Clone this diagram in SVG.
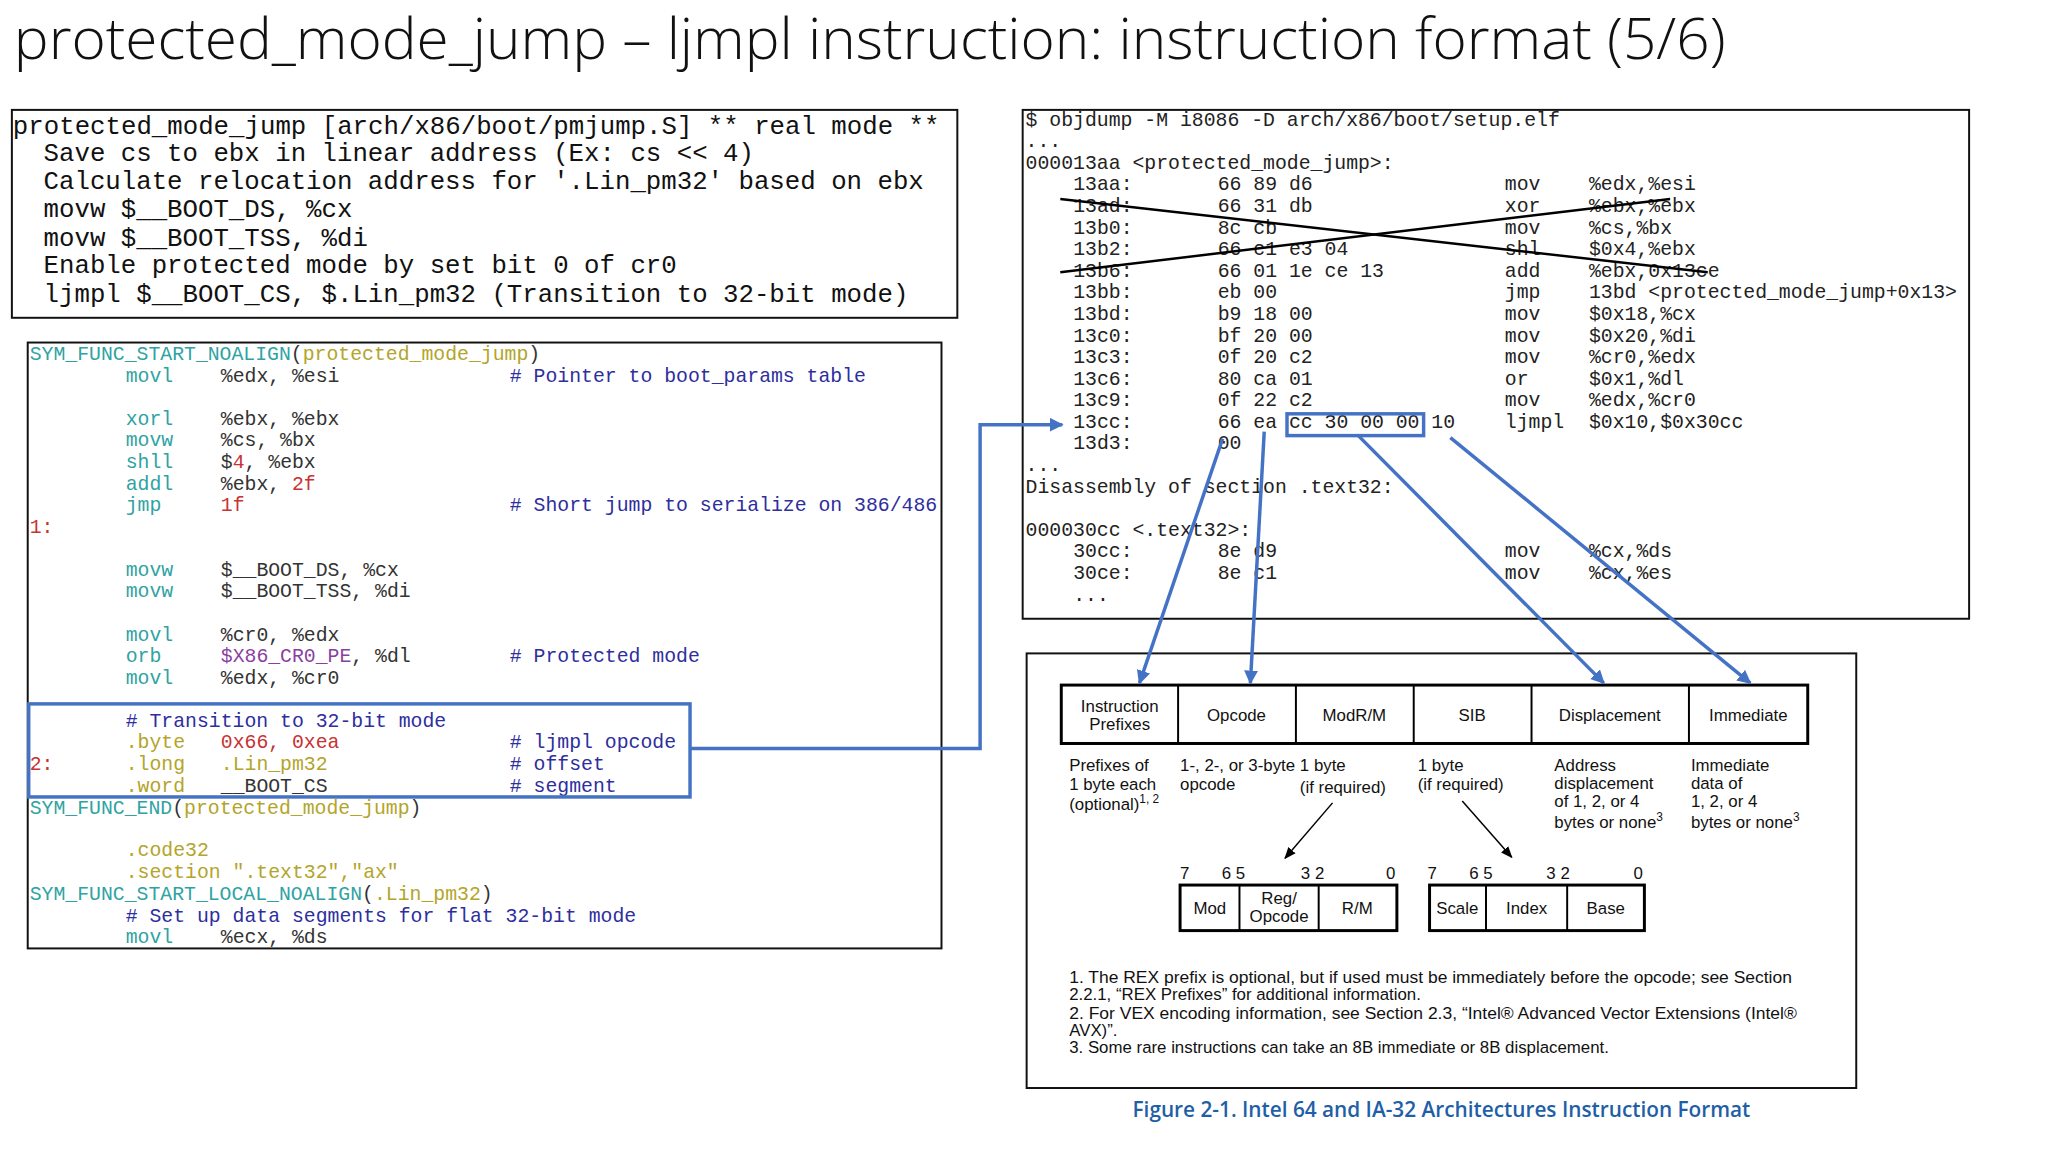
<svg xmlns="http://www.w3.org/2000/svg" width="2048" height="1152" viewBox="0 0 2048 1152">
<style>
.title{font-family:"Open Sans","Liberation Sans",sans-serif;font-weight:300;font-size:58px;fill:#111}
.m26{font-family:"Liberation Mono",monospace;font-size:26px;fill:#111}
.m20{font-family:"Liberation Mono",monospace;font-size:20px;fill:#222}
.t{fill:#2fa3a3}.y{fill:#b3a52a}.r{fill:#c83232}.c{fill:#2e2e9e}.k{fill:#333}.p{fill:#8a3fa0}
.s{font-family:"Liberation Sans Narrow","Liberation Sans",sans-serif;font-size:17px;fill:#111}
.box{fill:#fff;stroke:#111;stroke-width:2}
.fmt{fill:none;stroke:#000;stroke-width:3}
.div{stroke:#000;stroke-width:2}
.blue{fill:none;stroke:#4472c4;stroke-width:3.5}
.blk{stroke:#000;stroke-width:1.5}
</style>
<defs>
<marker id="ab" viewBox="0 0 10 10" refX="9" refY="5" markerWidth="4" markerHeight="4" orient="auto"><path d="M0,0L10,5L0,10z" fill="#4472c4"/></marker>
<marker id="ak" viewBox="0 0 10 10" refX="9" refY="5" markerWidth="8" markerHeight="8" orient="auto"><path d="M0,1L10,5L0,9z" fill="#000"/></marker>
</defs>
<rect width="2048" height="1152" fill="#fff"/>
<g transform="scale(0.99)">
<text class="title" x="14" y="60" textLength="1729" lengthAdjust="spacingAndGlyphs">protected_mode_jump – ljmpl instruction: instruction format (5/6)</text>

<g id="summary">
<rect class="box" x="12" y="111" width="955" height="210"/>
<text class="m26" x="13" y="135">protected_mode_jump [arch/x86/boot/pmjump.S] ** real mode **</text>
<text class="m26" x="44" y="163">Save cs to ebx in linear address (Ex: cs &lt;&lt; 4)</text>
<text class="m26" x="44" y="191">Calculate relocation address for '.Lin_pm32' based on ebx</text>
<text class="m26" x="44" y="219">movw $__BOOT_DS, %cx</text>
<text class="m26" x="44" y="248">movw $__BOOT_TSS, %di</text>
<text class="m26" x="44" y="276">Enable protected mode by set bit 0 of cr0</text>
<text class="m26" x="44" y="305">ljmpl $__BOOT_CS, $.Lin_pm32 (Transition to 32-bit mode)</text>
</g>

<g id="source" class="m20">
<rect class="box" x="28" y="346" width="923" height="612"/>
<text x="30" y="364"><tspan class="t">SYM_FUNC_START_NOALIGN</tspan><tspan class="k">(</tspan><tspan class="y">protected_mode_jump</tspan><tspan class="k">)</tspan></text>
<text class="t" x="127" y="386">movl</text><text class="k" x="223" y="386">%edx, %esi</text><text class="c" x="515" y="386"># Pointer to boot_params table</text>
<text class="t" x="127" y="429">xorl</text><text class="k" x="223" y="429">%ebx, %ebx</text>
<text class="t" x="127" y="451">movw</text><text class="k" x="223" y="451">%cs, %bx</text>
<text class="t" x="127" y="473">shll</text><text x="223" y="473"><tspan class="k">$</tspan><tspan class="r">4</tspan><tspan class="k">, %ebx</tspan></text>
<text class="t" x="127" y="495">addl</text><text x="223" y="495"><tspan class="k">%ebx, </tspan><tspan class="r">2f</tspan></text>
<text class="t" x="127" y="516">jmp</text><text class="r" x="223" y="516">1f</text><text class="c" x="515" y="516"># Short jump to serialize on 386/486</text>
<text class="r" x="30" y="538">1:</text>
<text class="t" x="127" y="582">movw</text><text class="k" x="223" y="582">$__BOOT_DS, %cx</text>
<text class="t" x="127" y="603">movw</text><text class="k" x="223" y="603">$__BOOT_TSS, %di</text>
<text class="t" x="127" y="647">movl</text><text class="k" x="223" y="647">%cr0, %edx</text>
<text class="t" x="127" y="669">orb</text><text x="223" y="669"><tspan class="p">$X86_CR0_PE</tspan><tspan class="k">, %dl</tspan></text><text class="c" x="515" y="669"># Protected mode</text>
<text class="t" x="127" y="691">movl</text><text class="k" x="223" y="691">%edx, %cr0</text>
<text class="c" x="127" y="734"># Transition to 32-bit mode</text>
<text class="y" x="127" y="756">.byte</text><text class="r" x="223" y="756">0x66, 0xea</text><text class="c" x="515" y="756"># ljmpl opcode</text>
<text class="r" x="30" y="778">2:</text><text class="y" x="127" y="778">.long</text><text class="y" x="223" y="778">.Lin_pm32</text><text class="c" x="515" y="778"># offset</text>
<text class="y" x="127" y="800">.word</text><text class="k" x="223" y="800">__BOOT_CS</text><text class="c" x="515" y="800"># segment</text>
<text x="30" y="822"><tspan class="t">SYM_FUNC_END</tspan><tspan class="k">(</tspan><tspan class="y">protected_mode_jump</tspan><tspan class="k">)</tspan></text>
<text class="y" x="127" y="865">.code32</text>
<text class="y" x="127" y="887">.section ".text32","ax"</text>
<text x="30" y="909"><tspan class="t">SYM_FUNC_START_LOCAL_NOALIGN</tspan><tspan class="k">(</tspan><tspan class="y">.Lin_pm32</tspan><tspan class="k">)</tspan></text>
<text class="c" x="127" y="931"># Set up data segments for flat 32-bit mode</text>
<text class="t" x="127" y="953">movl</text><text class="k" x="223" y="953">%ecx, %ds</text>
</g>

<g id="objdump" class="m20">
<rect class="box" x="1033" y="111" width="956" height="514"/>
<text x="1036" y="127">$ objdump -M i8086 -D arch/x86/boot/setup.elf</text>
<text x="1036" y="149">...</text>
<text x="1036" y="171">000013aa &lt;protected_mode_jump&gt;:</text>
<text x="1084" y="192">13aa:</text><text x="1230" y="192">66 89 d6</text><text x="1520" y="192">mov</text><text x="1605" y="192">%edx,%esi</text>
<text x="1084" y="214">13ad:</text><text x="1230" y="214">66 31 db</text><text x="1520" y="214">xor</text><text x="1605" y="214">%ebx,%ebx</text>
<text x="1084" y="236">13b0:</text><text x="1230" y="236">8c cb</text><text x="1520" y="236">mov</text><text x="1605" y="236">%cs,%bx</text>
<text x="1084" y="258">13b2:</text><text x="1230" y="258">66 c1 e3 04</text><text x="1520" y="258">shl</text><text x="1605" y="258">$0x4,%ebx</text>
<text x="1084" y="280">13b6:</text><text x="1230" y="280">66 01 1e ce 13</text><text x="1520" y="280">add</text><text x="1605" y="280">%ebx,0x13ce</text>
<text x="1084" y="301">13bb:</text><text x="1230" y="301">eb 00</text><text x="1520" y="301">jmp</text><text x="1605" y="301">13bd &lt;protected_mode_jump+0x13&gt;</text>
<text x="1084" y="323">13bd:</text><text x="1230" y="323">b9 18 00</text><text x="1520" y="323">mov</text><text x="1605" y="323">$0x18,%cx</text>
<text x="1084" y="345">13c0:</text><text x="1230" y="345">bf 20 00</text><text x="1520" y="345">mov</text><text x="1605" y="345">$0x20,%di</text>
<text x="1084" y="367">13c3:</text><text x="1230" y="367">0f 20 c2</text><text x="1520" y="367">mov</text><text x="1605" y="367">%cr0,%edx</text>
<text x="1084" y="389">13c6:</text><text x="1230" y="389">80 ca 01</text><text x="1520" y="389">or</text><text x="1605" y="389">$0x1,%dl</text>
<text x="1084" y="410">13c9:</text><text x="1230" y="410">0f 22 c2</text><text x="1520" y="410">mov</text><text x="1605" y="410">%edx,%cr0</text>
<text x="1084" y="432">13cc:</text><text x="1230" y="432">66 ea cc 30 00 00 10</text><text x="1520" y="432">ljmpl</text><text x="1605" y="432">$0x10,$0x30cc</text>
<text x="1084" y="454">13d3:</text><text x="1230" y="454">00</text>
<text x="1036" y="476">...</text>
<text x="1036" y="498">Disassembly of section .text32:</text>
<text x="1036" y="541">000030cc &lt;.text32&gt;:</text>
<text x="1084" y="563">30cc:</text><text x="1230" y="563">8e d9</text><text x="1520" y="563">mov</text><text x="1605" y="563">%cx,%ds</text>
<text x="1084" y="585">30ce:</text><text x="1230" y="585">8e c1</text><text x="1520" y="585">mov</text><text x="1605" y="585">%cx,%es</text>
<text x="1084" y="607">...</text>
<line x1="1071" y1="201" x2="1725" y2="275" stroke="#000" stroke-width="2.5"/>
<line x1="1071" y1="275" x2="1687" y2="201" stroke="#000" stroke-width="2.5"/>
</g>

<g id="format">
<rect class="box" x="1037" y="660" width="838" height="439"/>
<rect class="fmt" x="1072" y="692" width="754" height="59"/>
<line class="div" x1="1190" y1="692" x2="1190" y2="751"/>
<line class="div" x1="1309" y1="692" x2="1309" y2="751"/>
<line class="div" x1="1428" y1="692" x2="1428" y2="751"/>
<line class="div" x1="1547" y1="692" x2="1547" y2="751"/>
<line class="div" x1="1706" y1="692" x2="1706" y2="751"/>
<g class="s" text-anchor="middle">
<text x="1131" y="719">Instruction</text><text x="1131" y="737">Prefixes</text>
<text x="1249" y="728">Opcode</text>
<text x="1368" y="728">ModR/M</text>
<text x="1487" y="728">SIB</text>
<text x="1626" y="728">Displacement</text>
<text x="1766" y="728">Immediate</text>
</g>
<g class="s">
<text x="1080" y="779">Prefixes of</text><text x="1080" y="798">1 byte each</text><text x="1080" y="818">(optional)<tspan font-size="12" dy="-7">1, 2</tspan></text>
<text x="1192" y="779">1-, 2-, or 3-byte</text><text x="1192" y="798">opcode</text>
<text x="1313" y="779">1 byte</text><text x="1313" y="801">(if required)</text>
<text x="1432" y="779">1 byte</text><text x="1432" y="798">(if required)</text>
<text x="1570" y="779">Address</text><text x="1570" y="797">displacement</text><text x="1570" y="815">of 1, 2, or 4</text><text x="1570" y="836">bytes or none<tspan font-size="12" dy="-7">3</tspan></text>
<text x="1708" y="779">Immediate</text><text x="1708" y="797">data of</text><text x="1708" y="815">1, 2, or 4</text><text x="1708" y="836">bytes or none<tspan font-size="12" dy="-7">3</tspan></text>
</g>
<line class="blk" x1="1346" y1="811" x2="1298" y2="867" marker-end="url(#ak)"/>
<line class="blk" x1="1477" y1="809" x2="1527" y2="866" marker-end="url(#ak)"/>
<g class="s">
<text x="1192" y="888">7</text><text x="1234" y="888">6 5</text><text x="1314" y="888">3 2</text><text x="1400" y="888">0</text>
<text x="1442" y="888">7</text><text x="1484" y="888">6 5</text><text x="1562" y="888">3 2</text><text x="1650" y="888">0</text>
</g>
<rect class="fmt" x="1192" y="894" width="219" height="46"/>
<line class="div" x1="1252" y1="894" x2="1252" y2="940"/>
<line class="div" x1="1332" y1="894" x2="1332" y2="940"/>
<rect class="fmt" x="1444" y="894" width="217" height="46"/>
<line class="div" x1="1501" y1="894" x2="1501" y2="940"/>
<line class="div" x1="1583" y1="894" x2="1583" y2="940"/>
<g class="s" text-anchor="middle">
<text x="1222" y="923">Mod</text>
<text x="1292" y="913">Reg/</text><text x="1292" y="931">Opcode</text>
<text x="1371" y="923">R/M</text>
<text x="1472" y="923">Scale</text>
<text x="1542" y="923">Index</text>
<text x="1622" y="923">Base</text>
</g>
<g class="s">
<text x="1080" y="993" textLength="730" lengthAdjust="spacingAndGlyphs">1. The REX prefix is optional, but if used must be immediately before the opcode; see Section</text>
<text x="1080" y="1010">2.2.1, “REX Prefixes” for additional information.</text>
<text x="1080" y="1029" textLength="735" lengthAdjust="spacingAndGlyphs">2. For VEX encoding information, see Section 2.3, “Intel® Advanced Vector Extensions (Intel®</text>
<text x="1080" y="1046">AVX)”.</text>
<text x="1080" y="1064">3. Some rare instructions can take an 8B immediate or 8B displacement.</text>
</g>
<text x="1456" y="1128" text-anchor="middle" font-family="Open Sans,Liberation Sans,sans-serif" font-weight="600" font-size="21" fill="#1f5fa8" textLength="624" lengthAdjust="spacingAndGlyphs">Figure 2-1.  Intel 64 and IA-32 Architectures Instruction Format</text>
</g>

<g id="connectors">
<rect class="blue" x="29" y="711" width="668" height="94"/>
<rect class="blue" x="1300" y="418" width="138" height="22"/>
<polyline class="blue" points="697,756 990,756 990,429 1073,429" marker-end="url(#ab)"/>
<line class="blue" x1="1235" y1="443" x2="1151" y2="690" marker-end="url(#ab)"/>
<line class="blue" x1="1277" y1="436" x2="1263" y2="690" marker-end="url(#ab)"/>
<line class="blue" x1="1372" y1="440" x2="1620" y2="690" marker-end="url(#ab)"/>
<line class="blue" x1="1465" y1="442" x2="1768" y2="690" marker-end="url(#ab)"/>
</g>
</g>
</svg>
